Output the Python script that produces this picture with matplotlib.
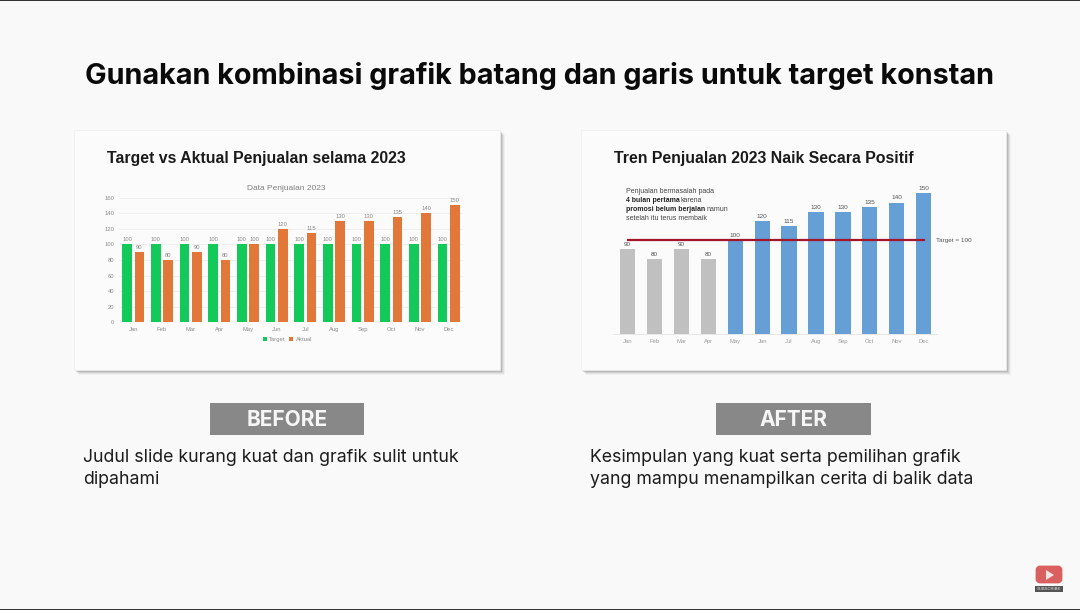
import matplotlib
matplotlib.use("Agg")
import matplotlib.pyplot as plt
from matplotlib.patches import Rectangle, FancyBboxPatch, Polygon

months_before = ["Jan", "Feb", "Mar", "Apr", "May", "Jun", "Jul", "Aug", "Sep", "Oct", "Nov", "Dec"]
months_after = ["Jan", "Feb", "Mar", "Apr", "May", "Jan", "Jul", "Aug", "Sep", "Oct", "Nov", "Dec"]
target = [100] * 12
actual = [90, 80, 90, 80, 100, 120, 115, 130, 130, 135, 140, 150]
y_ticks = [0, 20, 40, 60, 80, 100, 120, 140, 160]

W, H = 1080, 610
BG = "#f9f9f9"
fig = plt.figure(figsize=(W / 100, H / 100), dpi=100, facecolor=BG)
plt.rcParams["font.family"] = ["Inter", "DejaVu Sans"]
ARIAL = ["Liberation Sans", "DejaVu Sans"]

bg = fig.add_axes([0, 0, 1, 1], zorder=0)
bg.set_xlim(0, W)
bg.set_ylim(H, 0)
bg.axis("off")

# frame edges of the screenshot
bg.add_patch(Rectangle((0, 0), W, 1, color="#333333", lw=0))
bg.add_patch(Rectangle((0, 608.5), W, 1.5, color="#333333", lw=0))

bg.text(539.5, 76.5, "Gunakan kombinasi grafik batang dan garis untuk target konstan",
        ha="center", va="center", fontsize=20.75, fontweight="bold", color="#0a0a0a")


def card(x0, x1, y0=130, y1=370):
    for off, a in [(5, 0.06), (4, 0.10), (3, 0.14), (2, 0.20), (1, 0.22)]:
        bg.add_patch(Rectangle((x0 + off, y0 + off), x1 - x0, y1 - y0, color="#666666", alpha=a, lw=0))
    bg.add_patch(Rectangle((x0, y0), x1 - x0, y1 - y0, facecolor="#fbfbfb", edgecolor="#efefef", lw=0.5))


card(74, 500)
card(581, 1006)

bg.text(107, 158.5, "Target vs Aktual Penjualan selama 2023", family=ARIAL, ha="left", va="center",
        fontsize=11.47, fontweight="bold", color="#1a1a1a")
bg.text(613.5, 158.5, "Tren Penjualan 2023 Naik Secara Positif", family=ARIAL, ha="left", va="center",
        fontsize=11.47, fontweight="bold", color="#1a1a1a")

# badges and captions
for x0, label in [(209.5, "BEFORE"), (716, "AFTER")]:
    bg.add_patch(Rectangle((x0, 402.5), 154.5, 32.5, color="#888888", lw=0))
    bg.text(x0 + 77.5, 420, label, ha="center", va="center", fontsize=15, fontweight="bold", color="#f6f6f6")

for x, y, s in [(83, 458, "Judul slide kurang kuat dan grafik sulit untuk"),
                (83, 480, "dipahami"),
                (589.5, 458, "Kesimpulan yang kuat serta pemilihan grafik"),
                (589.5, 480, "yang mampu menampilkan cerita di balik data")]:
    bg.text(x, y, s, ha="left", va="center", fontsize=12.75, color="#1c1c1c")

# subscribe badge
bg.add_patch(FancyBboxPatch((1037, 567), 24, 15, boxstyle="round,pad=0,rounding_size=3",
                            mutation_aspect=1, facecolor="#d9605f", edgecolor="#d9605f", lw=2))
bg.add_patch(Polygon([(1046, 570), (1046, 580), (1054, 575)], closed=True, facecolor="#f6e4e2", lw=0))
bg.add_patch(Rectangle((1035, 586), 28, 6, color="#555555", lw=0))
bg.text(1049, 589, "SUBSCRIBE", ha="center", va="center", fontsize=3, color="#e8e8e8", family=ARIAL)


def px_axes(x0, x1, ytop, ybottom):
    a = fig.add_axes([x0 / W, 1 - ybottom / H, (x1 - x0) / W, (ybottom - ytop) / H], zorder=2)
    a.patch.set_alpha(0)
    for s in a.spines.values():
        s.set_visible(False)
    return a


GREY = "#8a8a8a"

# BEFORE chart
ax = px_axes(119, 463, 197.7, 322.3)
xs = list(range(12))
w = 0.335
off = 0.212
b1 = ax.bar([x - off for x in xs], target, w, color="#12c95a", label="Target", zorder=2)
b2 = ax.bar([x + off for x in xs], actual, w, color="#e2773a", label="Aktual", zorder=2)
ax.bar_label(b1, fontsize=4.2, color=GREY, padding=1.5, family=ARIAL)
ax.bar_label(b2, fontsize=4.2, color=GREY, padding=1.5, family=ARIAL)
ax.set_xlim(-0.5, 11.5)
ax.set_ylim(0, 160)
ax.set_yticks(y_ticks)
ax.set_xticks(xs, months_before)
ax.tick_params(length=0, labelsize=4.2, labelcolor=GREY, pad=3.5)
for t in ax.get_xticklabels() + ax.get_yticklabels():
    t.set_family(ARIAL)
ax.grid(axis="y", color="#ececec", lw=0.6, zorder=0)
ax.set_axisbelow(True)
ax.set_title("Data Penjualan 2023", fontsize=6.0, color="#808080", family=ARIAL, pad=5.5, x=0.4875)
ax.legend(loc="upper center", bbox_to_anchor=(0.49, -0.095), ncol=2, frameon=False,
          labelcolor=GREY, handlelength=0.7, handleheight=0.7, handletextpad=0.35,
          columnspacing=0.6, borderpad=0, prop={"family": ARIAL, "size": 4.2})

# AFTER chart
ax2 = px_axes(613, 937, 180, 334)
colors = ["#c0c0c0"] * 4 + ["#659fd6"] * 8
b = ax2.bar(xs, actual, 0.57, color=colors, zorder=2)
ax2.bar_label(b, fontsize=4.6, color="#555555", padding=1.5, family=ARIAL)
ax2.plot(xs, target, color="#a3162a", lw=1.6, zorder=3)
ax2.set_xlim(-0.546, 11.5)
ax2.set_ylim(0, 164)
ax2.set_yticks([])
ax2.set_xticks(xs, months_after)
ax2.tick_params(length=0, labelsize=4.2, labelcolor="#9a9a9a", pad=3.5)
for t in ax2.get_xticklabels():
    t.set_family(ARIAL)
ax2.spines["bottom"].set_visible(True)
ax2.spines["bottom"].set_color("#e4e4e4")
ax2.spines["bottom"].set_linewidth(0.6)

# overlay for annotation text
top = fig.add_axes([0, 0, 1, 1], zorder=3)
top.set_xlim(0, W)
top.set_ylim(H, 0)
top.axis("off")
top.patch.set_alpha(0)
top.text(936.5, 240.5, "Target = 100", family=ARIAL, fontsize=4.6, color="#555555", ha="left", va="center")

renderer = fig.canvas.get_renderer()
lines = [
    (191.5, [("Penjualan bermasalah pada", "normal")]),
    (200.5, [("4 bulan pertama", "bold"), ("karena", "normal")]),
    (209.3, [("promosi belum berjalan", "bold"), ("namun", "normal")]),
    (218, [("setelah itu terus membaik", "normal")]),
]
for y, runs in lines:
    x = 625.5
    for s, wt in runs:
        t = top.text(x, y, s, family=ARIAL, fontsize=5, fontweight=wt, color="#444444" if wt == "normal" else "#222222",
                     ha="left", va="center")
        x = t.get_window_extent(renderer).x1 + 1.6

fig.savefig("out.png", dpi=100, facecolor=BG)
